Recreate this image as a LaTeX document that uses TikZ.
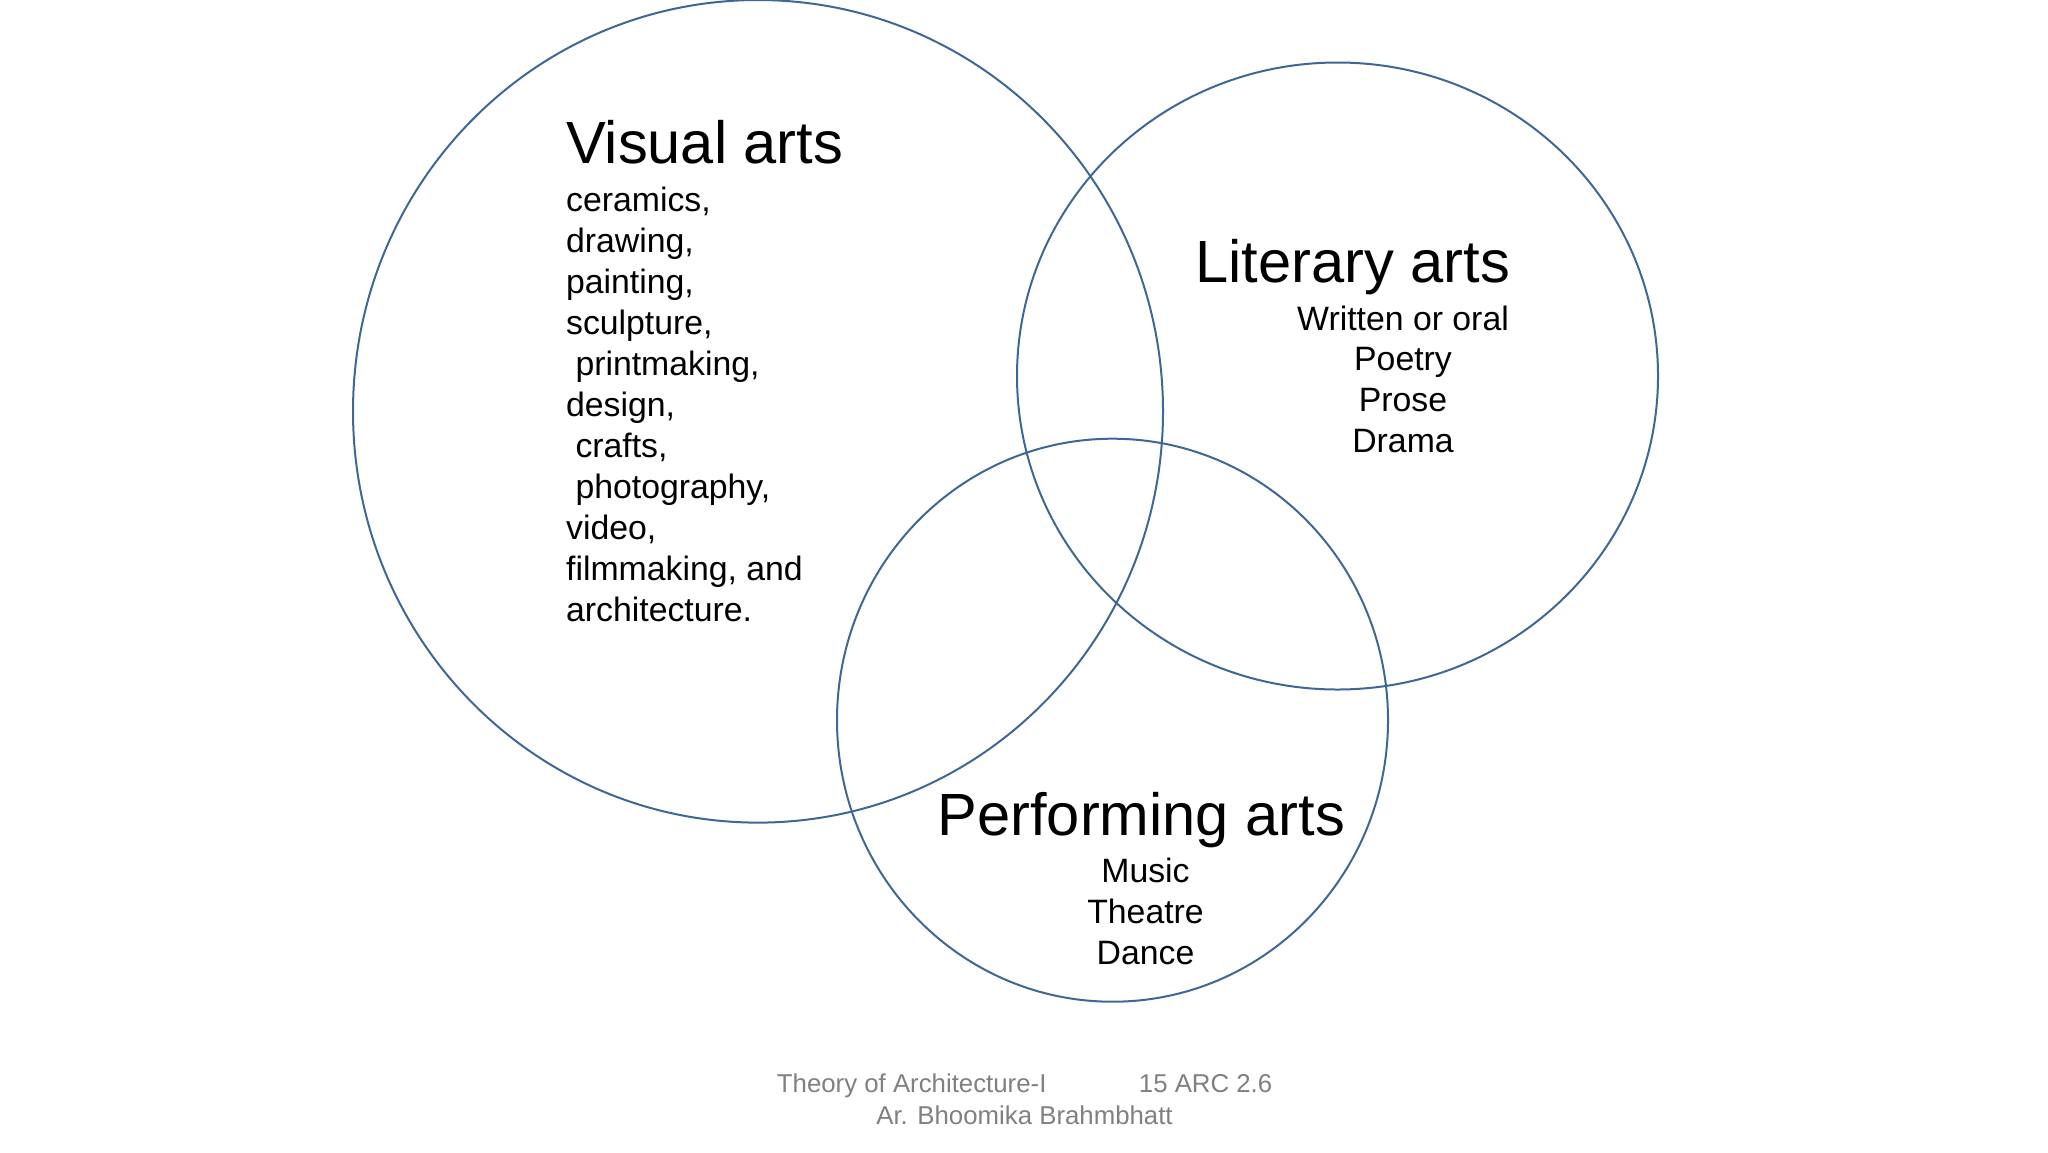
\documentclass[tikz,border=0pt]{standalone}
\usepackage{fontspec}
\setmainfont{Liberation Sans}

\definecolor{footgray}{RGB}{128,128,128}

\tikzset{
  vennline/.style={color={rgb, 255:red, 62; green, 103; blue, 150 }, draw opacity=1, line width=1pt},
  headtxt/.style={anchor=base, inner sep=0pt, font=\fontsize{29.8}{35}\selectfont},
  listtxt/.style={inner sep=0pt, font=\fontsize{16.9}{20.5}\selectfont},
  foottxt/.style={anchor=base west, inner sep=0pt, text=footgray, font=\fontsize{12.9}{15}\selectfont}
}

\begin{document}
\begin{tikzpicture}[x=0.5pt,y=0.5pt,yscale=-1,xscale=1]
\useasboundingbox (0,0) rectangle (2048,1152);

%Shape: Circle [visual]
\draw  [vennline] (758,411.3) ellipse (405 and 411.3);
%Shape: Circle [literary]
\draw  [vennline] (1337.5,376) ellipse (320.5 and 313.5);
%Shape: Circle [performing]
\draw  [vennline] (1112.5,720.2) ellipse (275.5 and 281.5);

% Text Node
\draw (565.7,163.5) node [headtxt, anchor=base west] (visualT) {Visual arts};
% Text Node (base = last line)
\draw (565.7,621) node [listtxt, anchor=base west, align=left] (visualL) {ceramics,\\drawing,\\painting,\\sculpture,\\~printmaking,\\design,\\~crafts,\\~photography,\\video,\\filmmaking, and\\architecture.};

% Text Node
\draw (1352.6,282.6) node [headtxt] (literT) {Literary arts};
% Text Node
\draw (1403,452.5) node [listtxt, anchor=base, align=center, font=\fontsize{16.9}{20.4}\selectfont] (literL) {Written or oral\\Poetry\\Prose\\Drama};

% Text Node
\draw (1141.3,835) node [headtxt] (performT) {Performing arts};
% Text Node
\draw (1145.5,964.5) node [listtxt, anchor=base, align=center, font=\fontsize{16.9}{20.4}\selectfont] (performL) {Music\\Theatre\\Dance};

% Text Node
\draw (776.5,1092) node [foottxt] (footA) {Theory of Architecture-I};
% Text Node
\draw (1138.5,1092) node [foottxt] (footB) {15 ARC 2.6};
% Text Node
\draw (1024.5,1124) node [foottxt, anchor=base] (footC) {Ar. Bhoomika Brahmbhatt};

\end{tikzpicture}
\end{document}
